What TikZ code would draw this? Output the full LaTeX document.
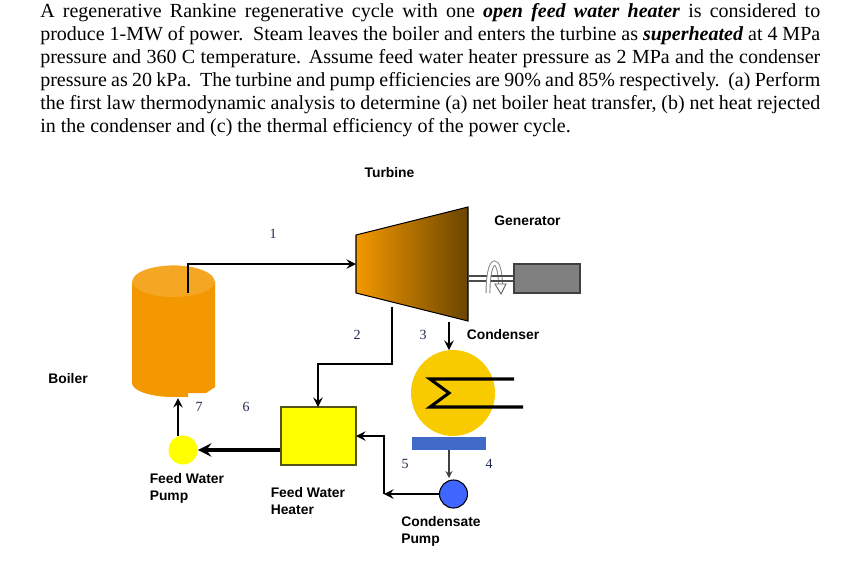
\documentclass[tikz,border=0pt]{standalone}
\usepackage{fontspec}
\setmainfont{Liberation Serif}
\newfontfamily\labelfont{Liberation Sans}
\usetikzlibrary{arrows}
\usetikzlibrary{shapes}
\definecolor{boilerbody}{HTML}{F39800}
\definecolor{boilertop}{HTML}{F5A623}
\definecolor{turbinedark}{HTML}{6B4500}
\definecolor{condenserfill}{HTML}{F8CB00}
\definecolor{hotwell}{HTML}{4169C8}
\definecolor{pumpblue}{HTML}{3F66FF}
\definecolor{pumpyellow}{HTML}{FFFF00}
\definecolor{heaterline}{HTML}{55551A}
\definecolor{numcolor}{HTML}{1F2A50}
\tikzset{
	pipe/.style={line width=2.1pt},
	thinpipe/.style={line width=1.3pt, black!75},
	partlabel/.style={font=\labelfont\bfseries\fontsize{10.4}{12.6}\selectfont, align=left, inner sep=0pt},
	numlabel/.style={font=\fontsize{10.5}{12}\selectfont, text=numcolor, inner sep=0pt},
}
\begin{document}
\begin{tikzpicture}[>=stealth, x=0.75pt, y=-0.75pt]
	\useasboundingbox (0,0) rectangle (847,576);
	%Problem text
	\node [anchor=north west, inner sep=0pt, text width=585pt, align=justify, font=\fontsize{15}{17.25}\selectfont] (problem) at (40,3) {A regenerative Rankine regenerative cycle with one \textbf{\textit{open feed water heater}} is considered to\linebreak
	produce 1-MW of power.\ \ Steam leaves the boiler and enters the turbine as \textbf{\textit{superheated}} at 4 MPa\linebreak
	pressure and 360 C temperature. Assume feed water heater pressure as 2 MPa and the condenser\linebreak
	pressure as 20 kPa.\ \ The turbine and pump efficiencies are 90\% and 85\% respectively.\ \ (a) Perform\linebreak
	the first law thermodynamic analysis to determine (a) net boiler heat transfer, (b) net heat rejected\linebreak
	in the condenser and (c) the thermal efficiency of the power cycle.};
	%Boiler
	\fill [boilerbody] (132,281) -- (132,383) arc [x radius=41.5, y radius=14, start angle=180, end angle=100] -- (188,397) -- (188,393) -- (206,393) -- (215,387) -- (215,281) -- cycle;
	\fill [boilertop] (173.5,281) ellipse [x radius=41.5, y radius=16];
	\draw [white, line width=0.6pt] (132,281) arc [x radius=41.5, y radius=16, start angle=180, end angle=360];
	\coordinate (boilerout) at (188,293);
	\coordinate (boilerin) at (178,398);
	%Turbine
	\shade [left color=boilerbody, right color=turbinedark, draw=black, line width=0.8pt] (356,235) -- (468,207) -- (468,321) -- (356,293) -- cycle;
	\coordinate (turbinein) at (356,264);
	\coordinate (bleed) at (392,307);
	\coordinate (exhaust) at (449,322);
	\coordinate (shaftend) at (468,278);
	%Generator
	\node [rectangle, draw=black!75, fill=black!50, line width=0.8pt, minimum width=49.5pt, minimum height=21.75pt, inner sep=0pt] (generator) at (547,278.5) {};
	\draw [black!70, line width=1pt] (shaftend |- 0,276) -- (generator.west |- 0,276);
	\draw [black!70, line width=1pt] (shaftend |- 0,281) -- (generator.west |- 0,281);
	\draw [black!50, line width=3.6pt] (488,293) .. controls (488,254) and (500.5,254) .. (500.5,287);
	\draw [white, line width=2.2pt] (488,293) .. controls (488,254) and (500.5,254) .. (500.5,287);
	\draw [black!70, line width=1pt] (494,276) -- (generator.west |- 0,276);
	\draw [black!70, line width=1pt] (494,281) -- (generator.west |- 0,281);
	\fill [white, draw=black!60, line width=0.7pt] (495,284) -- (506,284) -- (501,294) -- cycle;
	%Condenser
	\node [ellipse, fill=condenserfill, minimum width=63pt, minimum height=64.5pt, inner sep=0pt] (condenser) at (453,393) {};
	\coordinate (coiltop) at (514,379);
	\coordinate (coilbottom) at (523,407);
	\draw [line width=2.3pt, line join=miter] (coiltop) -- (430,379) -- (449,393) -- (430,407) -- (coilbottom);
	\node [rectangle, fill=hotwell, minimum width=55.5pt, minimum height=9.75pt, inner sep=0pt] (hotwell) at (449,443.5) {};
	%Pumps and heater
	\node [circle, fill=pumpblue, draw=black, line width=0.8pt, minimum size=21pt, inner sep=0pt] (condpump) at (453.5,494) {};
	\node [rectangle, fill=pumpyellow, draw=heaterline, line width=0.8pt, minimum width=56.25pt, minimum height=43.5pt, inner sep=0pt] (heater) at (318.5,436) {};
	\node [circle, fill=pumpyellow, minimum size=21.75pt, inner sep=0pt] (feedpump) at (183,450) {};
	\coordinate (elbow) at (384,494);
	%Connectors
	\draw [pipe, ->] (boilerout) |- (turbinein);
	\draw [pipe, ->] (bleed) |- (318,364) -- (318,407);
	\draw [pipe, ->] (exhaust) -- (449,350);
	\draw [thinpipe, ->] (hotwell.south) -- (449,478);
	\draw [pipe, ->] (condpump.west) -- (elbow);
	\draw [pipe, ->] (elbow) |- (356,436);
	\draw [line width=3.4pt, ->] (heater.west |- feedpump) -- (feedpump.east);
	\draw [pipe, ->] (178,436) -- (boilerin);
	%Labels
	\node [partlabel] (turbinelabel) at (389.5,173) {Turbine};
	\node [partlabel] (generatorlabel) at (527.5,221) {Generator};
	\node [partlabel] (condenserlabel) at (503,335) {Condenser};
	\node [partlabel] (boilerlabel) at (68,379) {Boiler};
	\node [partlabel, anchor=north west] (feedpumplabel) at (149.5,473) {Feed Water\\Pump};
	\node [partlabel, anchor=north west] (heaterlabel) at (270.5,487) {Feed Water\\Heater};
	\node [partlabel, anchor=north west] (condpumplabel) at (401,516) {Condensate\\Pump};
	%State numbers
	\node [numlabel] (s1) at (273,234) {1};
	\node [numlabel] (s2) at (357,335) {2};
	\node [numlabel] (s3) at (423,335) {3};
	\node [numlabel] (s4) at (489,464) {4};
	\node [numlabel] (s5) at (405,464) {5};
	\node [numlabel] (s6) at (246,407) {6};
	\node [numlabel] (s7) at (199,407) {7};
\end{tikzpicture}
\end{document}
